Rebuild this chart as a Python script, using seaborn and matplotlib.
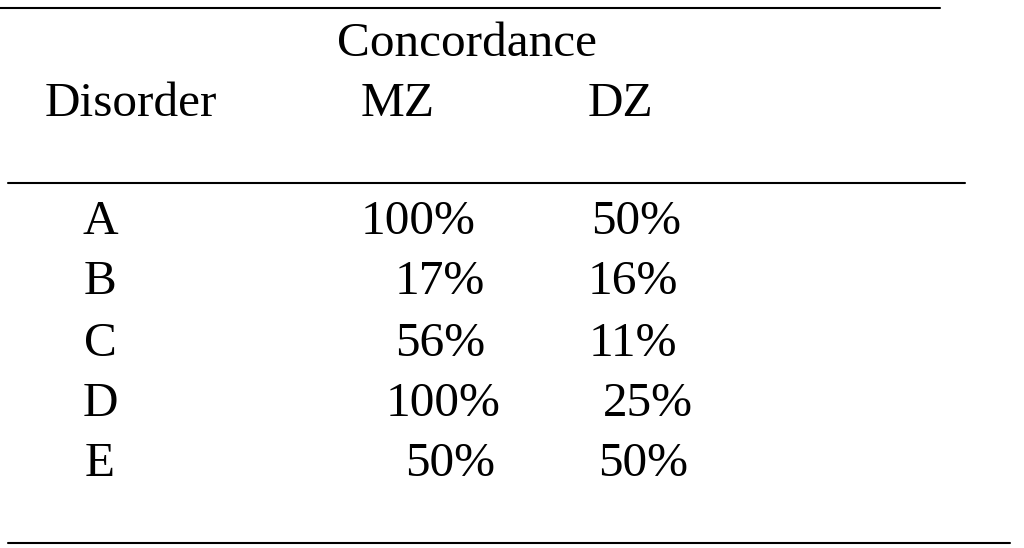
import matplotlib
matplotlib.use("Agg")
import matplotlib.pyplot as plt
import seaborn as sns

sns.set_theme(style="white", rc={"font.family": "Liberation Serif"})

disorders = ["A", "B", "C", "D", "E"]
mz = ["100%", "17%", "56%", "100%", "50%"]
dz = ["50%", "16%", "11%", "25%", "50%"]
mz_x = [418, 440, 440, 443, 450]
dz_x = [636, 633, 633, 648, 643]
row_y = [222, 282, 344, 404, 464]

fig = plt.figure(figsize=(10.24, 5.48), dpi=100)
ax = fig.add_axes([0, 0, 1, 1])
ax.set_xlim(0, 1024)
ax.set_ylim(548, 0)
ax.axis("off")

fs = 35.5
kw = dict(fontsize=fs, color="black", va="center")
ax.plot([0, 940], [8, 8], color="black", lw=1.5)
ax.plot([8, 965], [183, 183], color="black", lw=1.5)
ax.plot([8, 1010], [543, 543], color="black", lw=1.5)

ax.text(467, 44, "Concordance", ha="center", **kw)
ax.text(45, 104, "Disorder", ha="left", **kw)
ax.text(398, 104, "MZ", ha="center", **kw)
ax.text(620, 104, "DZ", ha="center", **kw)

for d, m, z, mx, zx, y in zip(disorders, mz, dz, mz_x, dz_x, row_y):
    ax.text(100, y, d, ha="center", **kw)
    ax.text(mx, y, m, ha="center", **kw)
    ax.text(zx, y, z, ha="center", **kw)

fig.savefig("out.png", dpi=100, facecolor="white")
